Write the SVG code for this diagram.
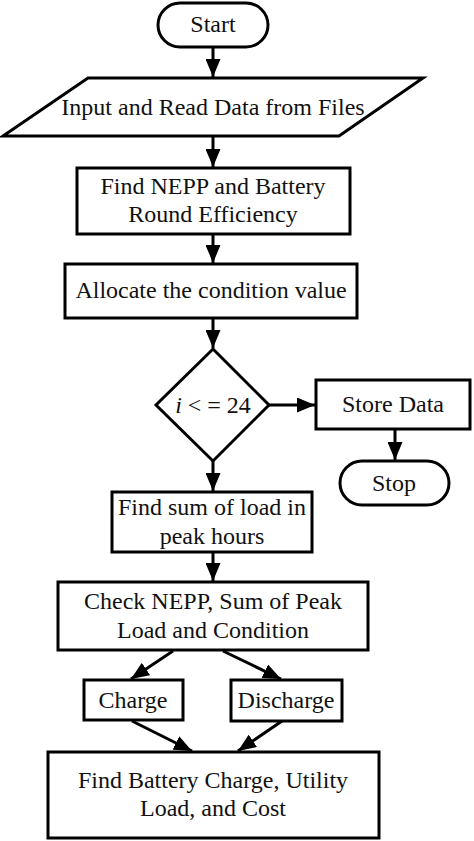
<svg xmlns="http://www.w3.org/2000/svg" width="474" height="841" viewBox="0 0 474 841">
<defs>
<marker id="ah" viewBox="0 0 12 10" refX="12" refY="5" markerWidth="6" markerHeight="5" markerUnits="strokeWidth" orient="auto">
<path d="M0,0 L12,5 L0,10 Z" fill="#000"/>
</marker>
</defs>
<rect width="474" height="841" fill="#fff"/>
<g id="connectors" stroke="#000" stroke-width="3" fill="none" marker-end="url(#ah)">
<line x1="213" y1="47" x2="213" y2="77" marker-end="url(#ah)"/>
<line x1="213" y1="136" x2="213" y2="167" marker-end="url(#ah)"/>
<line x1="213" y1="234" x2="213" y2="263" marker-end="url(#ah)"/>
<line x1="213" y1="318" x2="213" y2="348" marker-end="url(#ah)"/>
<line x1="269" y1="405" x2="315" y2="405" marker-end="url(#ah)"/>
<line x1="395" y1="429" x2="395" y2="460" marker-end="url(#ah)"/>
<line x1="213" y1="461" x2="213" y2="491" marker-end="url(#ah)"/>
<line x1="213" y1="552" x2="213" y2="581" marker-end="url(#ah)"/>
<line x1="173" y1="651" x2="131" y2="679" marker-end="url(#ah)"/>
<line x1="223" y1="651" x2="281" y2="679" marker-end="url(#ah)"/>
<line x1="132" y1="721" x2="192" y2="751" marker-end="url(#ah)"/>
<line x1="282" y1="721" x2="238" y2="751" marker-end="url(#ah)"/>
</g>
<g font-family="Liberation Serif" font-size="24" text-anchor="middle">
<g id="start">
<rect x="158" y="3" width="110" height="44" rx="22" ry="22" fill="#fff" stroke="#000" stroke-width="3"/>
<text x="213" y="32" fill="#111" font-family="Liberation Serif">Start</text>
</g>
<g id="input">
<polygon points="88,78 423,78 339,136 3,136" fill="#fff" stroke="#000" stroke-width="3"/>
<text x="213" y="115" fill="#111" font-family="Liberation Serif">Input and Read Data from Files</text>
</g>
<g id="find-nepp">
<rect x="77" y="168" width="273" height="66" fill="#fff" stroke="#000" stroke-width="3"/>
<text x="213" y="194" fill="#111" font-family="Liberation Serif">Find NEPP and Battery</text>
<text x="213" y="222" fill="#111" font-family="Liberation Serif">Round Efficiency</text>
</g>
<g id="allocate">
<rect x="65" y="264" width="292" height="54" fill="#fff" stroke="#000" stroke-width="3"/>
<text x="211" y="298" fill="#111" font-family="Liberation Serif">Allocate the condition value</text>
</g>
<g id="decision">
<polygon points="213,349 269,405 213,461 156,405" fill="#fff" stroke="#000" stroke-width="3"/>
<text x="213" y="413" fill="#111" font-family="Liberation Serif"><tspan font-style="italic">i</tspan> &lt; = 24</text>
</g>
<g id="store">
<rect x="316" y="380" width="154" height="49" fill="#fff" stroke="#000" stroke-width="3"/>
<text x="393" y="412" fill="#111" font-family="Liberation Serif">Store Data</text>
</g>
<g id="stop">
<rect x="340" y="461" width="109" height="44" rx="22" ry="22" fill="#fff" stroke="#000" stroke-width="3"/>
<text x="394" y="491" fill="#111" font-family="Liberation Serif">Stop</text>
</g>
<g id="find-sum">
<rect x="112" y="492" width="200" height="60" fill="#fff" stroke="#000" stroke-width="3"/>
<text x="212" y="515" fill="#111" font-family="Liberation Serif">Find sum of load in</text>
<text x="212" y="544" fill="#111" font-family="Liberation Serif">peak hours</text>
</g>
<g id="check">
<rect x="58" y="582" width="310" height="68" fill="#fff" stroke="#000" stroke-width="3"/>
<text x="213" y="609" fill="#111" font-family="Liberation Serif">Check NEPP, Sum of Peak</text>
<text x="213" y="638" fill="#111" font-family="Liberation Serif">Load and Condition</text>
</g>
<g id="charge">
<rect x="84" y="680" width="99" height="40" fill="#fff" stroke="#000" stroke-width="3"/>
<text x="133" y="708" fill="#111" font-family="Liberation Serif">Charge</text>
</g>
<g id="discharge">
<rect x="231" y="680" width="111" height="41" fill="#fff" stroke="#000" stroke-width="3"/>
<text x="286" y="708" fill="#111" font-family="Liberation Serif">Discharge</text>
</g>
<g id="final">
<rect x="48" y="752" width="331" height="86" fill="#fff" stroke="#000" stroke-width="3"/>
<text x="213" y="788" fill="#111" font-family="Liberation Serif">Find Battery Charge, Utility</text>
<text x="213" y="816" fill="#111" font-family="Liberation Serif">Load, and Cost</text>
</g>
</g>
</svg>
